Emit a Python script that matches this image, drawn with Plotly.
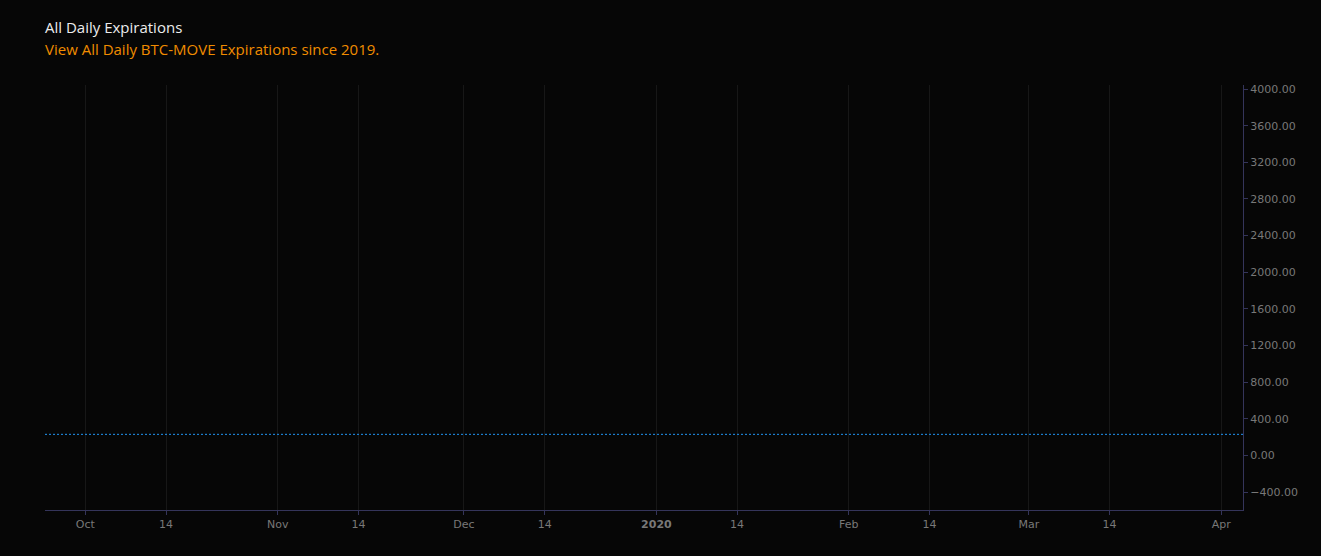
import plotly.graph_objects as go

# axis ticks
tick_dates = ['2019-10-01', '2019-10-14', '2019-11-01', '2019-11-14', '2019-12-01',
              '2019-12-14', '2020-01-01', '2020-01-14', '2020-02-01', '2020-02-14',
              '2020-03-01', '2020-03-14', '2020-04-01']
tick_labels = ['Oct', '14', 'Nov', '14', 'Dec', '14', '<b>2020</b>', '14',
               'Feb', '14', 'Mar', '14', 'Apr']
y_ticks = [-400, 0, 400, 800, 1200, 1600, 2000, 2400, 2800, 3200, 3600, 4000]

# last value price line
last_price = 230

x_range = ['2019-09-24 12:00', '2020-04-04 12:00']
y_range = [-596, 4044]

fig = go.Figure()
fig.add_trace(go.Scatter(x=x_range, y=[None, None], mode='lines', showlegend=False,
                         hoverinfo='skip'))
fig.add_hline(y=last_price, line=dict(color='#2196f3', width=1, dash='2px,2px'))

fig.update_layout(
    width=1321, height=556,
    paper_bgcolor='#060606', plot_bgcolor='#060606',
    margin=dict(l=45, r=78, t=85, b=46),
    showlegend=False,
    font=dict(family='DejaVu Sans', color='#787878', size=11),
)
fig.update_xaxes(
    range=x_range, tickvals=tick_dates, ticktext=tick_labels,
    showgrid=True, gridcolor='#171717', gridwidth=1,
    showline=True, linecolor='#34345a', linewidth=1,
    ticks='outside', ticklen=4, tickcolor='#34345a',
    tickfont=dict(size=11, color='#787878'), zeroline=False,
)
fig.update_yaxes(
    range=y_range, side='right', tickvals=y_ticks, tickformat='.2f',
    showgrid=False, zeroline=False,
    showline=True, linecolor='#34345a', linewidth=1,
    ticks='outside', ticklen=4, tickcolor='#34345a',
    tickfont=dict(size=11, color='#787878'),
)

fig.add_annotation(text='All Daily Expirations', xref='paper', yref='paper',
                   x=0, y=1.136, xanchor='left', yanchor='middle', showarrow=False,
                   xshift=-2, font=dict(family='Open Sans', size=15, color='#ececec'))
fig.add_annotation(text='View All Daily BTC-MOVE Expirations since 2019.', xref='paper',
                   yref='paper', x=0, y=1.085, xanchor='left', yanchor='middle',
                   showarrow=False, xshift=-2,
                   font=dict(family='Open Sans', size=15, color='#f08c00'))

fig.write_html("out.html", config={'displayModeBar': False},
               post_script="document.body.style.margin='0';"
               "document.body.style.background='#060606';")
